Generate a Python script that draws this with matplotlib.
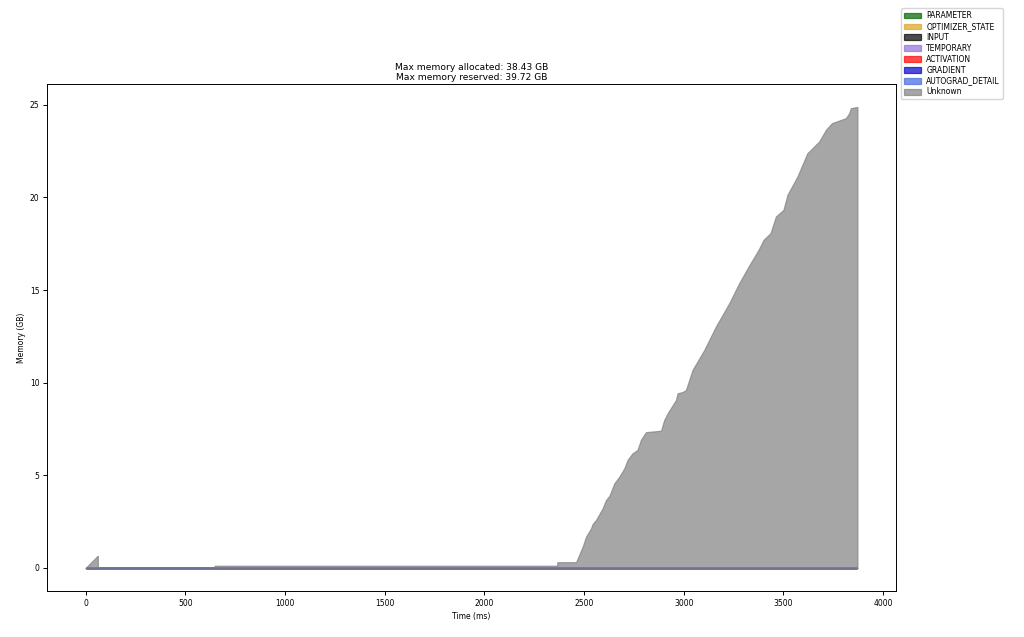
import matplotlib
matplotlib.use("Agg")
import matplotlib.pyplot as plt
import matplotlib.colors as mcolors
import numpy as np

# Time stamps (ms) and memory (GB) of the "Unknown" category
times = [0, 60, 61, 62, 646, 647, 2365, 2366, 2460, 2493, 2510, 2535, 2543, 2560, 2593, 2610,
         2627, 2652, 2677, 2702, 2718, 2743, 2768, 2785, 2810, 2886, 2902, 2919, 2961,
         2969, 2995, 3011, 3044, 3103, 3161, 3228, 3278, 3325, 3375, 3400, 3435, 3462,
         3500, 3520, 3570, 3620, 3629, 3679, 3705, 3713, 3743, 3813, 3830, 3838, 3868, 3871]
unknown = [0, 0.65, 0.65, 0, 0, 0.12, 0.12, 0.31, 0.31, 1.15, 1.69, 2.14, 2.38, 2.59, 3.22, 3.67,
           3.89, 4.57, 4.93, 5.38, 5.83, 6.19, 6.37, 6.91, 7.33, 7.41, 7.99, 8.35, 9.07,
           9.43, 9.5, 9.61, 10.69, 11.77, 13.03, 14.29, 15.37, 16.27, 17.17, 17.71, 18.07, 18.97,
           19.33, 20.14, 21.13, 22.39, 22.48, 23.02, 23.5, 23.65, 24.01, 24.28, 24.55, 24.82, 24.88, 24.88]

categories = ["PARAMETER", "OPTIMIZER_STATE", "INPUT", "TEMPORARY", "ACTIVATION",
              "GRADIENT", "AUTOGRAD_DETAIL", "Unknown"]
colors = ["darkgreen", "goldenrod", "black", "mediumpurple", "red",
          "mediumblue", "royalblue", "grey"]

zeros = [0.0] * len(times)
series = [zeros] * 7 + [unknown]

title_lines = ["Max memory allocated: 38.43 GB", "Max memory reserved: 39.72 GB"]

fig = plt.figure(figsize=(10.24, 6.37), dpi=100)
ax = fig.add_axes([47 / 1024, 1 - 591 / 637, (896 - 47) / 1024, (591 - 84) / 637])

polys = ax.stackplot(np.array(times), *[np.array(s) for s in series], colors=colors, alpha=0.7,
                     labels=categories)
for p, c in zip(polys, colors):
    p.set_edgecolor(mcolors.to_rgba(c, 0.7))
    p.set_linewidth(0.9)

tmax = max(times)
vmax = max(unknown)
ax.set_xlim(-0.05 * tmax, 1.05 * tmax)
ax.set_ylim(-0.05 * vmax, 1.05 * vmax)

ax.set_xticks([0, 500, 1000, 1500, 2000, 2500, 3000, 3500, 4000])
ax.set_yticks([0, 5, 10, 15, 20, 25])
ax.tick_params(labelsize=5.5, length=3, width=0.7, pad=2.5)
for s in ax.spines.values():
    s.set_linewidth(0.7)
ax.set_xlabel("Time (ms)", fontsize=5.5, labelpad=3)
ax.set_ylabel("Memory (GB)", fontsize=5.5, labelpad=3)
ax.set_title("\n".join(title_lines), fontsize=6.6, pad=3, linespacing=1.05)

handles, labels = ax.get_legend_handles_labels()
fig.legend(handles, labels, loc="upper left", bbox_to_anchor=(901 / 1024, 1 - 8 / 637),
           fontsize=5.5, frameon=True, handlelength=2.2, handleheight=0.75,
           labelspacing=0.25, borderpad=0.4, handletextpad=0.7, borderaxespad=0.0,
           fancybox=True, framealpha=0.8)

fig.savefig("out.png", dpi=100)
